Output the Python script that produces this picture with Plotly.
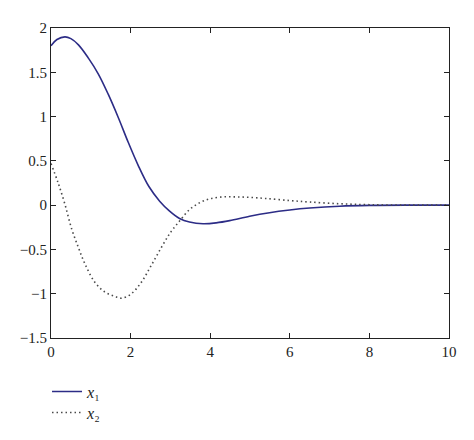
import plotly.graph_objects as go

t1 = [0, 0.15, 0.35, 0.5, 0.69, 0.94, 1.19, 1.44, 1.69, 1.94, 2.19, 2.46, 2.73, 2.98, 3.23, 3.48, 3.82, 4.15, 4.49, 4.99, 5.49, 6.0, 6.5, 7.25, 8, 9, 10]
x1 = [1.80, 1.87, 1.90, 1.88, 1.81, 1.66, 1.48, 1.25, 0.99, 0.71, 0.45, 0.21, 0.045, -0.067, -0.15, -0.19, -0.21, -0.20, -0.175, -0.125, -0.085, -0.055, -0.033, -0.012, -0.003, 0, 0]

t2 = [0, 0.18, 0.35, 0.52, 0.69, 0.85, 1.10, 1.35, 1.60, 1.79, 2.02, 2.27, 2.52, 2.77, 3.0, 3.23, 3.48, 3.73, 3.98, 4.32, 4.65, 4.99, 5.4, 6.0, 6.5, 7.25, 8, 9, 10]
x2 = [0.47, 0.25, 0.01, -0.27, -0.48, -0.66, -0.87, -0.98, -1.03, -1.05, -1.0, -0.87, -0.68, -0.48, -0.31, -0.18, -0.05, 0.026, 0.07, 0.093, 0.093, 0.088, 0.075, 0.052, 0.035, 0.016, 0.005, 0, 0]

series_names = ["<i>x</i>₁", "<i>x</i>₂"]
x_ticks = [0, 2, 4, 6, 8, 10]
y_ticks = [-1.5, -1, -0.5, 0, 0.5, 1, 1.5, 2]

FONT = "Liberation Serif, Times New Roman, serif"

fig = go.Figure()
fig.add_trace(go.Scatter(x=t1, y=x1, mode="lines", name=series_names[0], legend="legend",
                         line=dict(color="#2c2c86", width=1.6, shape="spline", smoothing=1.0)))
fig.add_trace(go.Scatter(x=t2, y=x2, mode="lines", name=series_names[1], legend="legend2",
                         line=dict(color="#4a4a4a", width=1.6, dash="1.5px,3px", shape="spline", smoothing=1.0)))

axis_common = dict(showgrid=False, zeroline=False, showline=True, linecolor="#222222", linewidth=1,
                   mirror="ticks", ticks="inside", ticklen=5, tickcolor="#222222",
                   tickfont=dict(family=FONT, size=15, color="#222222"))

fig.update_xaxes(range=[0, 10], tickvals=x_ticks, **axis_common)
fig.update_yaxes(range=[-1.5, 2], tickvals=y_ticks, **axis_common)

legend_common = dict(x=-0.01, xanchor="left", yanchor="top",
                     font=dict(family=FONT, size=16, color="#222222"),
                     bgcolor="rgba(0,0,0,0)")

fig.update_layout(
    width=474, height=440,
    margin=dict(l=43, r=33, t=17, b=110),
    plot_bgcolor="white", paper_bgcolor="white",
    font=dict(family=FONT),
    showlegend=True,
    legend=dict(y=-0.118, **legend_common),
    legend2=dict(y=-0.186, **legend_common),
)

fig.write_html("out.html")
